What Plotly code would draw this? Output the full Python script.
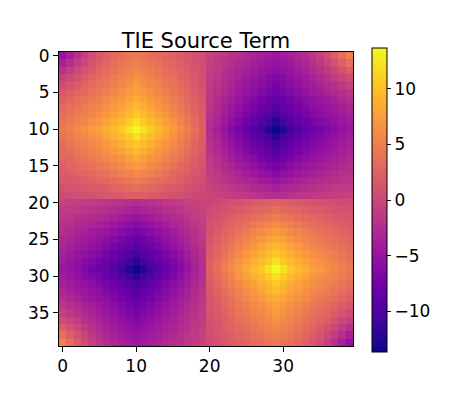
import plotly.graph_objects as go

title_text = "TIE Source Term"
x_ticks = [0, 10, 20, 30]
y_ticks = [0, 5, 10, 15, 20, 25, 30, 35]
cbar_ticks = [-10, -5, 0, 5, 10]

col_index = list(range(40))
row_index = list(range(40))

source_term = [
    [-5.1,-3.6,-2.1,-0.6,0.6,1.6,2.4,3.1,3.7,4.2,4.6,4.2,3.7,3.3,2.9,2.4,2.0,1.5,1.0,0.5,-0.5,-1.0,-1.5,-2.0,-2.4,-2.9,-3.3,-3.7,-4.2,-4.6,-4.2,-3.7,-3.1,-2.4,-1.6,-0.6,0.6,2.1,3.6,5.1],
    [-3.6,-2.3,-1.0,0.2,1.3,2.1,2.9,3.6,4.2,4.7,5.1,4.7,4.2,3.7,3.2,2.8,2.2,1.7,1.2,0.6,-0.6,-1.2,-1.7,-2.2,-2.8,-3.2,-3.7,-4.2,-4.7,-5.1,-4.7,-4.2,-3.6,-2.9,-2.1,-1.3,-0.2,1.0,2.3,3.6],
    [-2.1,-1.0,0.1,1.1,2.0,2.8,3.5,4.1,4.8,5.3,5.8,5.3,4.8,4.2,3.7,3.2,2.6,2.0,1.4,0.8,-0.8,-1.4,-2.0,-2.6,-3.2,-3.7,-4.2,-4.8,-5.3,-5.8,-5.3,-4.8,-4.1,-3.5,-2.8,-2.0,-1.1,-0.1,1.0,2.1],
    [-0.6,0.2,1.1,2.0,2.7,3.4,4.1,4.7,5.3,5.9,6.5,5.9,5.3,4.7,4.2,3.6,2.9,2.3,1.6,1.0,-1.0,-1.6,-2.3,-2.9,-3.6,-4.2,-4.7,-5.3,-5.9,-6.5,-5.9,-5.3,-4.7,-4.1,-3.4,-2.7,-2.0,-1.1,-0.2,0.6],
    [0.6,1.3,2.0,2.7,3.4,4.0,4.6,5.3,5.9,6.5,7.2,6.5,5.9,5.3,4.6,4.0,3.3,2.5,1.8,1.1,-1.1,-1.8,-2.5,-3.3,-4.0,-4.6,-5.3,-5.9,-6.5,-7.2,-6.5,-5.9,-5.3,-4.6,-4.0,-3.4,-2.7,-2.0,-1.3,-0.6],
    [1.6,2.1,2.8,3.4,4.0,4.5,5.2,5.8,6.5,7.1,7.8,7.1,6.5,5.8,5.1,4.4,3.6,2.8,2.0,1.3,-1.3,-2.0,-2.8,-3.6,-4.4,-5.1,-5.8,-6.5,-7.1,-7.8,-7.1,-6.5,-5.8,-5.2,-4.5,-4.0,-3.4,-2.8,-2.1,-1.6],
    [2.4,2.9,3.5,4.1,4.6,5.2,5.8,6.5,7.1,7.9,8.6,7.9,7.1,6.4,5.6,4.9,4.0,3.2,2.3,1.5,-1.5,-2.3,-3.2,-4.0,-4.9,-5.6,-6.4,-7.1,-7.9,-8.6,-7.9,-7.1,-6.5,-5.8,-5.2,-4.6,-4.1,-3.5,-2.9,-2.4],
    [3.1,3.6,4.1,4.7,5.3,5.8,6.5,7.2,7.9,8.8,9.6,8.8,7.9,7.1,6.3,5.4,4.5,3.6,2.6,1.7,-1.7,-2.6,-3.6,-4.5,-5.4,-6.3,-7.1,-7.9,-8.8,-9.6,-8.8,-7.9,-7.2,-6.5,-5.8,-5.3,-4.7,-4.1,-3.6,-3.1],
    [3.7,4.2,4.8,5.3,5.9,6.5,7.1,7.9,8.7,9.6,10.5,9.6,8.7,7.8,6.9,6.0,5.0,4.0,2.9,1.9,-1.9,-2.9,-4.0,-5.0,-6.0,-6.9,-7.8,-8.7,-9.6,-10.5,-9.6,-8.7,-7.9,-7.1,-6.5,-5.9,-5.3,-4.8,-4.2,-3.7],
    [4.2,4.7,5.3,5.9,6.5,7.1,7.9,8.8,9.6,10.6,12.2,10.6,9.6,8.6,7.6,6.7,5.5,4.4,3.3,2.2,-2.2,-3.3,-4.4,-5.5,-6.7,-7.6,-8.6,-9.6,-10.6,-12.2,-10.6,-9.6,-8.8,-7.9,-7.1,-6.5,-5.9,-5.3,-4.7,-4.2],
    [4.6,5.1,5.8,6.5,7.2,7.8,8.6,9.6,10.5,12.2,13.7,12.2,10.5,9.5,8.4,7.3,6.1,4.9,3.7,2.4,-2.4,-3.7,-4.9,-6.1,-7.3,-8.4,-9.5,-10.5,-12.2,-13.6,-12.2,-10.5,-9.6,-8.6,-7.8,-7.2,-6.5,-5.8,-5.1,-4.6],
    [4.2,4.7,5.3,5.9,6.5,7.1,7.9,8.8,9.6,10.6,12.2,10.6,9.6,8.6,7.6,6.7,5.5,4.4,3.3,2.2,-2.2,-3.3,-4.4,-5.5,-6.7,-7.6,-8.6,-9.6,-10.6,-12.2,-10.6,-9.6,-8.8,-7.9,-7.1,-6.5,-5.9,-5.3,-4.7,-4.2],
    [3.7,4.2,4.8,5.3,5.9,6.5,7.1,7.9,8.7,9.6,10.5,9.6,8.7,7.8,6.9,6.0,5.0,4.0,2.9,1.9,-1.9,-2.9,-4.0,-5.0,-6.0,-6.9,-7.8,-8.7,-9.6,-10.5,-9.6,-8.7,-7.9,-7.1,-6.5,-5.9,-5.3,-4.8,-4.2,-3.7],
    [3.3,3.7,4.2,4.7,5.3,5.8,6.4,7.1,7.8,8.6,9.5,8.6,7.8,7.0,6.2,5.4,4.4,3.5,2.6,1.7,-1.7,-2.6,-3.5,-4.4,-5.4,-6.2,-7.0,-7.8,-8.6,-9.5,-8.6,-7.8,-7.1,-6.4,-5.8,-5.3,-4.7,-4.2,-3.7,-3.3],
    [2.9,3.2,3.7,4.2,4.6,5.1,5.6,6.3,6.9,7.6,8.4,7.6,6.9,6.2,5.4,4.7,3.9,3.1,2.2,1.4,-1.4,-2.2,-3.1,-3.9,-4.7,-5.4,-6.2,-6.9,-7.6,-8.4,-7.6,-6.9,-6.3,-5.6,-5.1,-4.6,-4.2,-3.7,-3.2,-2.9],
    [2.4,2.8,3.2,3.6,4.0,4.4,4.9,5.4,6.0,6.7,7.3,6.7,6.0,5.4,4.7,4.1,3.3,2.6,1.9,1.1,-1.1,-1.9,-2.6,-3.3,-4.1,-4.7,-5.4,-6.0,-6.7,-7.3,-6.7,-6.0,-5.4,-4.9,-4.4,-4.0,-3.6,-3.2,-2.8,-2.4],
    [2.0,2.2,2.6,2.9,3.3,3.6,4.0,4.5,5.0,5.5,6.1,5.5,5.0,4.4,3.9,3.3,2.7,2.1,1.5,0.9,-0.9,-1.5,-2.1,-2.7,-3.3,-3.9,-4.4,-5.0,-5.5,-6.1,-5.5,-5.0,-4.5,-4.0,-3.6,-3.3,-2.9,-2.6,-2.2,-2.0],
    [1.5,1.7,2.0,2.3,2.5,2.8,3.2,3.6,4.0,4.4,4.9,4.4,4.0,3.5,3.1,2.6,2.1,1.6,1.1,0.6,-0.6,-1.1,-1.6,-2.1,-2.6,-3.1,-3.5,-4.0,-4.4,-4.9,-4.4,-4.0,-3.6,-3.2,-2.8,-2.5,-2.3,-2.0,-1.7,-1.5],
    [1.0,1.2,1.4,1.6,1.8,2.0,2.3,2.6,2.9,3.3,3.7,3.3,2.9,2.6,2.2,1.9,1.5,1.1,0.7,0.3,-0.3,-0.7,-1.1,-1.5,-1.9,-2.2,-2.6,-2.9,-3.3,-3.7,-3.3,-2.9,-2.6,-2.3,-2.0,-1.8,-1.6,-1.4,-1.2,-1.0],
    [0.5,0.6,0.8,1.0,1.1,1.3,1.5,1.7,1.9,2.2,2.4,2.2,1.9,1.7,1.4,1.1,0.9,0.6,0.3,0.0,0.0,-0.3,-0.6,-0.9,-1.1,-1.4,-1.7,-1.9,-2.2,-2.4,-2.2,-1.9,-1.7,-1.5,-1.3,-1.1,-1.0,-0.8,-0.6,-0.5],
    [-0.5,-0.6,-0.8,-1.0,-1.1,-1.3,-1.5,-1.7,-1.9,-2.2,-2.4,-2.2,-1.9,-1.7,-1.4,-1.1,-0.9,-0.6,-0.3,0.0,0.0,0.3,0.6,0.9,1.1,1.4,1.7,1.9,2.2,2.4,2.2,1.9,1.7,1.5,1.3,1.1,1.0,0.8,0.6,0.5],
    [-1.0,-1.2,-1.4,-1.6,-1.8,-2.0,-2.3,-2.6,-2.9,-3.3,-3.7,-3.3,-2.9,-2.6,-2.2,-1.9,-1.5,-1.1,-0.7,-0.3,0.3,0.7,1.1,1.5,1.9,2.2,2.6,2.9,3.3,3.7,3.3,2.9,2.6,2.3,2.0,1.8,1.6,1.4,1.2,1.0],
    [-1.5,-1.7,-2.0,-2.3,-2.5,-2.8,-3.2,-3.6,-4.0,-4.4,-4.9,-4.4,-4.0,-3.5,-3.1,-2.6,-2.1,-1.6,-1.1,-0.6,0.6,1.1,1.6,2.1,2.6,3.1,3.5,4.0,4.4,4.9,4.4,4.0,3.6,3.2,2.8,2.5,2.3,2.0,1.7,1.5],
    [-2.0,-2.2,-2.6,-2.9,-3.3,-3.6,-4.0,-4.5,-5.0,-5.5,-6.1,-5.5,-5.0,-4.4,-3.9,-3.3,-2.7,-2.1,-1.5,-0.9,0.9,1.5,2.1,2.7,3.3,3.9,4.4,5.0,5.5,6.1,5.5,5.0,4.5,4.0,3.6,3.3,2.9,2.6,2.2,2.0],
    [-2.4,-2.8,-3.2,-3.6,-4.0,-4.4,-4.9,-5.4,-6.0,-6.7,-7.3,-6.7,-6.0,-5.4,-4.7,-4.1,-3.3,-2.6,-1.9,-1.1,1.1,1.9,2.6,3.3,4.1,4.7,5.4,6.0,6.7,7.3,6.7,6.0,5.4,4.9,4.4,4.0,3.6,3.2,2.8,2.4],
    [-2.9,-3.2,-3.7,-4.2,-4.6,-5.1,-5.6,-6.3,-6.9,-7.6,-8.4,-7.6,-6.9,-6.2,-5.4,-4.7,-3.9,-3.1,-2.2,-1.4,1.4,2.2,3.1,3.9,4.7,5.4,6.2,6.9,7.6,8.4,7.6,6.9,6.3,5.6,5.1,4.6,4.2,3.7,3.2,2.9],
    [-3.3,-3.7,-4.2,-4.7,-5.3,-5.8,-6.4,-7.1,-7.8,-8.6,-9.5,-8.6,-7.8,-7.0,-6.2,-5.4,-4.4,-3.5,-2.6,-1.7,1.7,2.6,3.5,4.4,5.4,6.2,7.0,7.8,8.6,9.5,8.6,7.8,7.1,6.4,5.8,5.3,4.7,4.2,3.7,3.3],
    [-3.7,-4.2,-4.8,-5.3,-5.9,-6.5,-7.1,-7.9,-8.7,-9.6,-10.5,-9.6,-8.7,-7.8,-6.9,-6.0,-5.0,-4.0,-2.9,-1.9,1.9,2.9,4.0,5.0,6.0,6.9,7.8,8.7,9.6,10.5,9.6,8.7,7.9,7.1,6.5,5.9,5.3,4.8,4.2,3.7],
    [-4.2,-4.7,-5.3,-5.9,-6.5,-7.1,-7.9,-8.8,-9.6,-10.6,-12.2,-10.6,-9.6,-8.6,-7.6,-6.7,-5.5,-4.4,-3.3,-2.2,2.2,3.3,4.4,5.5,6.7,7.6,8.6,9.6,10.6,12.2,10.6,9.6,8.8,7.9,7.1,6.5,5.9,5.3,4.7,4.2],
    [-4.6,-5.1,-5.8,-6.5,-7.2,-7.8,-8.6,-9.6,-10.5,-12.2,-13.6,-12.2,-10.5,-9.5,-8.4,-7.3,-6.1,-4.9,-3.7,-2.4,2.4,3.7,4.9,6.1,7.3,8.4,9.5,10.5,12.2,13.7,12.2,10.5,9.6,8.6,7.8,7.2,6.5,5.8,5.1,4.6],
    [-4.2,-4.7,-5.3,-5.9,-6.5,-7.1,-7.9,-8.8,-9.6,-10.6,-12.2,-10.6,-9.6,-8.6,-7.6,-6.7,-5.5,-4.4,-3.3,-2.2,2.2,3.3,4.4,5.5,6.7,7.6,8.6,9.6,10.6,12.2,10.6,9.6,8.8,7.9,7.1,6.5,5.9,5.3,4.7,4.2],
    [-3.7,-4.2,-4.8,-5.3,-5.9,-6.5,-7.1,-7.9,-8.7,-9.6,-10.5,-9.6,-8.7,-7.8,-6.9,-6.0,-5.0,-4.0,-2.9,-1.9,1.9,2.9,4.0,5.0,6.0,6.9,7.8,8.7,9.6,10.5,9.6,8.7,7.9,7.1,6.5,5.9,5.3,4.8,4.2,3.7],
    [-3.1,-3.6,-4.1,-4.7,-5.3,-5.8,-6.5,-7.2,-7.9,-8.8,-9.6,-8.8,-7.9,-7.1,-6.3,-5.4,-4.5,-3.6,-2.6,-1.7,1.7,2.6,3.6,4.5,5.4,6.3,7.1,7.9,8.8,9.6,8.8,7.9,7.2,6.5,5.8,5.3,4.7,4.1,3.6,3.1],
    [-2.4,-2.9,-3.5,-4.1,-4.6,-5.2,-5.8,-6.5,-7.1,-7.9,-8.6,-7.9,-7.1,-6.4,-5.6,-4.9,-4.0,-3.2,-2.3,-1.5,1.5,2.3,3.2,4.0,4.9,5.6,6.4,7.1,7.9,8.6,7.9,7.1,6.5,5.8,5.2,4.6,4.1,3.5,2.9,2.4],
    [-1.6,-2.1,-2.8,-3.4,-4.0,-4.5,-5.2,-5.8,-6.5,-7.1,-7.8,-7.1,-6.5,-5.8,-5.1,-4.4,-3.6,-2.8,-2.0,-1.3,1.3,2.0,2.8,3.6,4.4,5.1,5.8,6.5,7.1,7.8,7.1,6.5,5.8,5.2,4.5,4.0,3.4,2.8,2.1,1.6],
    [-0.6,-1.3,-2.0,-2.7,-3.4,-4.0,-4.6,-5.3,-5.9,-6.5,-7.2,-6.5,-5.9,-5.3,-4.6,-4.0,-3.3,-2.5,-1.8,-1.1,1.1,1.8,2.5,3.3,4.0,4.6,5.3,5.9,6.5,7.2,6.5,5.9,5.3,4.6,4.0,3.4,2.7,2.0,1.3,0.6],
    [0.6,-0.2,-1.1,-2.0,-2.7,-3.4,-4.1,-4.7,-5.3,-5.9,-6.5,-5.9,-5.3,-4.7,-4.2,-3.6,-2.9,-2.3,-1.6,-1.0,1.0,1.6,2.3,2.9,3.6,4.2,4.7,5.3,5.9,6.5,5.9,5.3,4.7,4.1,3.4,2.7,2.0,1.1,0.2,-0.6],
    [2.1,1.0,-0.1,-1.1,-2.0,-2.8,-3.5,-4.1,-4.8,-5.3,-5.8,-5.3,-4.8,-4.2,-3.7,-3.2,-2.6,-2.0,-1.4,-0.8,0.8,1.4,2.0,2.6,3.2,3.7,4.2,4.8,5.3,5.8,5.3,4.8,4.1,3.5,2.8,2.0,1.1,0.1,-1.0,-2.1],
    [3.6,2.3,1.0,-0.2,-1.3,-2.1,-2.9,-3.6,-4.2,-4.7,-5.1,-4.7,-4.2,-3.7,-3.2,-2.8,-2.2,-1.7,-1.2,-0.6,0.6,1.2,1.7,2.2,2.8,3.2,3.7,4.2,4.7,5.1,4.7,4.2,3.6,2.9,2.1,1.3,0.2,-1.0,-2.3,-3.6],
    [5.1,3.6,2.1,0.6,-0.6,-1.6,-2.4,-3.1,-3.7,-4.2,-4.6,-4.2,-3.7,-3.3,-2.9,-2.4,-2.0,-1.5,-1.0,-0.5,0.5,1.0,1.5,2.0,2.4,2.9,3.3,3.7,4.2,4.6,4.2,3.7,3.1,2.4,1.6,0.6,-0.6,-2.1,-3.6,-5.1],
]

fig = go.Figure(
    go.Heatmap(
        z=source_term,
        x=col_index,
        y=row_index,
        colorscale="Plasma",
        colorbar=dict(
            thickness=15,
            thicknessmode="pixels",
            len=304,
            lenmode="pixels",
            x=1.064,
            xanchor="left",
            y=0.498,
            yanchor="middle",
            xpad=0,
            ypad=0,
            outlinewidth=1,
            outlinecolor="black",
            ticks="outside",
            ticklen=4,
            tickwidth=1,
            tickcolor="black",
            tickvals=cbar_ticks,
            tickfont=dict(size=17, color="black"),
        ),
    )
)

fig.update_layout(
    width=474,
    height=395,
    margin=dict(l=51, r=129, t=44, b=57),
    paper_bgcolor="white",
    plot_bgcolor="white",
    font=dict(family="DejaVu Sans", color="black", size=17),
    title=dict(
        text=title_text,
        x=0.5,
        xref="paper",
        xanchor="center",
        y=1,
        yref="paper",
        yanchor="bottom",
        pad=dict(b=4),
        font=dict(size=21, color="black"),
    ),
    xaxis=dict(
        range=[-0.5, 39.5],
        tickvals=x_ticks,
        ticks="outside",
        ticklen=5,
        tickwidth=1,
        tickcolor="black",
        showline=True,
        mirror=True,
        linecolor="black",
        linewidth=1,
        showgrid=False,
        zeroline=False,
        tickfont=dict(size=17),
    ),
    yaxis=dict(
        range=[39.5, -0.5],
        tickvals=y_ticks,
        ticks="outside",
        ticklen=5,
        tickwidth=1,
        tickcolor="black",
        showline=True,
        mirror=True,
        linecolor="black",
        linewidth=1,
        showgrid=False,
        zeroline=False,
        tickfont=dict(size=17),
    ),
)

fig.write_html("out.html")
